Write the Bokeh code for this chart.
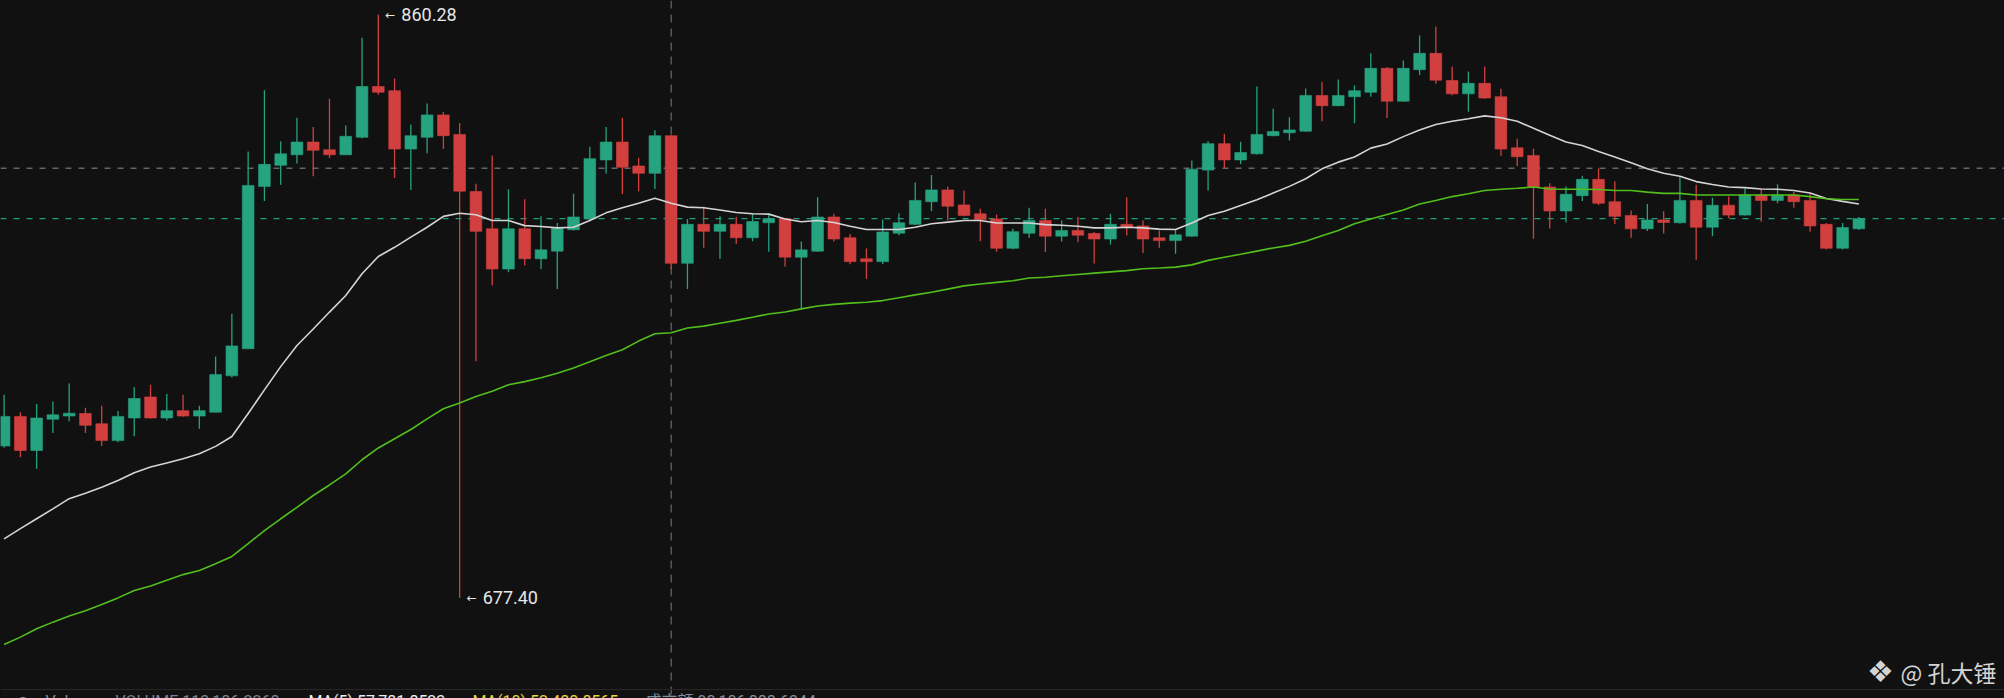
from bokeh.plotting import figure
from bokeh.models import Range1d, ColumnDataSource, Span, GlobalInlineStyleSheet
from bokeh.core.properties import value
from bokeh.embed import file_html
from bokeh.resources import INLINE

# ---------------- data ----------------
open_ = [725.0, 734.3, 723.6, 733.4, 734.4, 735.2, 732.0, 726.7, 733.8, 740.4,
         733.8, 736.1, 734.4, 735.6, 747.0, 755.5, 806.4, 813.0, 816.3, 820.3,
         817.9, 816.3, 821.8, 837.7, 836.4, 818.1, 821.8, 828.8, 822.7, 804.8,
         793.1, 780.5, 793.1, 783.7, 786.1, 792.8, 796.2, 814.7, 820.3, 812.8,
         810.5, 822.3, 782.3, 794.5, 792.3, 794.5, 790.3, 795.0, 796.3, 784.2,
         786.1, 796.8, 790.3, 783.7, 782.8, 791.7, 794.5, 801.6, 805.3, 800.6,
         797.8, 796.2, 787.0, 791.7, 795.7, 790.8, 792.6, 791.6, 789.9, 794.5,
         794.0, 790.3, 789.4, 790.8, 811.5, 819.8, 814.7, 816.6, 822.3, 823.2,
         823.7, 834.9, 831.7, 834.5, 835.9, 843.4, 833.1, 843.0, 848.1, 839.6,
         835.4, 838.7, 834.5, 818.5, 816.1, 806.2, 798.7, 803.5, 808.6, 801.6,
         797.3, 793.1, 795.9, 795.0, 802.0, 793.6, 800.5, 797.4, 803.7, 802.0,
         803.7, 802.0, 794.5, 787.0, 793.1]
high = [741.1, 735.6, 738.2, 739.0, 744.6, 737.0, 737.6, 736.0, 743.4, 744.2,
        741.3, 741.1, 737.6, 753.1, 766.5, 817.3, 836.5, 820.5, 827.9, 825.0,
        833.9, 825.5, 853.0, 860.28, 840.2, 825.8, 832.4, 829.7, 826.3, 807.2,
        816.1, 805.5, 802.4, 797.0, 794.9, 804.1, 818.8, 825.0, 827.9, 815.4,
        824.0, 822.4, 796.2, 800.1, 797.0, 796.8, 797.8, 797.8, 796.5, 789.1,
        803.0, 797.8, 791.5, 786.9, 796.0, 798.0, 807.6, 810.0, 806.4, 805.1,
        799.4, 797.6, 793.1, 799.7, 799.4, 795.7, 796.8, 792.1, 797.8, 803.0,
        795.7, 792.6, 792.8, 814.5, 820.6, 822.9, 820.4, 837.7, 830.7, 828.1,
        837.1, 839.2, 839.9, 838.0, 848.1, 843.8, 845.9, 853.7, 856.5, 844.0,
        842.4, 844.0, 837.0, 821.3, 818.2, 807.4, 806.4, 809.7, 812.0, 808.0,
        798.8, 800.9, 798.6, 809.3, 806.9, 802.8, 803.2, 805.8, 805.5, 807.1,
        804.6, 804.3, 794.9, 794.9, 796.8]
low = [724.5, 721.5, 717.9, 729.1, 732.8, 729.1, 725.0, 726.2, 728.1, 733.6,
       733.0, 734.2, 730.4, 735.6, 746.5, 755.5, 801.8, 806.9, 813.6, 809.6,
       815.3, 816.3, 821.5, 835.1, 809.0, 805.3, 816.8, 818.1, 677.40, 751.6,
       775.3, 779.5, 781.6, 780.5, 774.2, 792.6, 795.7, 810.4, 804.0, 804.9,
       805.6, 780.5, 774.2, 787.2, 783.6, 788.3, 789.2, 785.9, 781.3, 768.2,
       785.8, 789.1, 782.0, 777.4, 782.1, 791.1, 794.3, 798.6, 795.7, 797.0,
       789.2, 785.9, 786.7, 790.2, 785.8, 789.1, 788.9, 782.2, 788.2, 791.0,
       785.5, 787.2, 785.3, 790.6, 805.1, 812.1, 813.4, 816.4, 822.1, 820.8,
       823.5, 826.8, 831.5, 826.2, 834.5, 827.8, 832.9, 841.3, 838.6, 835.0,
       829.8, 833.9, 816.0, 812.7, 790.0, 793.2, 795.1, 801.8, 800.6, 794.6,
       790.3, 792.4, 791.6, 794.8, 783.4, 790.8, 796.4, 797.3, 795.3, 801.1,
       799.7, 792.2, 786.6, 786.6, 792.7]
close = [734.3, 723.6, 733.8, 734.8, 735.3, 731.5, 726.7, 734.3, 739.9, 733.8,
         736.1, 734.4, 736.1, 747.4, 756.4, 806.7, 813.3, 816.6, 820.3, 817.7,
         816.3, 822.1, 837.7, 835.9, 818.1, 822.3, 828.8, 822.3, 804.9, 792.3,
         780.5, 793.1, 783.7, 786.5, 793.3, 796.8, 815.1, 820.3, 812.4, 810.5,
         822.3, 782.3, 794.5, 792.3, 794.5, 790.3, 795.4, 796.3, 784.2, 786.5,
         796.8, 789.9, 782.8, 782.8, 792.1, 795.0, 802.0, 805.3, 800.2, 797.3,
         796.0, 787.0, 792.2, 795.7, 790.8, 792.6, 791.1, 789.9, 794.5, 793.6,
         789.9, 789.4, 791.2, 811.8, 819.8, 814.7, 817.0, 822.7, 823.6, 824.1,
         834.9, 831.7, 834.9, 836.4, 843.4, 833.1, 843.4, 848.1, 839.7, 835.4,
         838.7, 834.1, 818.1, 815.7, 806.2, 798.7, 803.9, 808.6, 801.1, 797.0,
         793.1, 795.9, 795.1, 802.0, 793.6, 800.5, 797.4, 803.7, 802.0, 803.7,
         801.6, 794.0, 787.0, 793.5, 796.3]
ma_white = [695.9, 699.1, 702.2, 705.3, 708.5, 710.2, 712.1, 714.2, 716.6, 718.4,
            719.7, 721.0, 722.6, 724.9, 728.0, 735.2, 742.6, 749.9, 756.5, 761.7,
            767.0, 772.2, 779.0, 784.4, 787.3, 790.5, 793.6, 797.0, 798.0, 797.5,
            795.7, 795.7, 794.1, 793.8, 793.4, 793.6, 795.7, 798.1, 799.7, 801.1,
            802.7, 801.1, 799.9, 799.7, 799.0, 798.2, 797.8, 797.7, 796.2, 795.3,
            795.7, 795.1, 793.9, 792.9, 792.9, 792.9, 793.6, 794.7, 795.2, 795.7,
            795.7, 794.9, 794.9, 794.9, 794.4, 794.2, 793.9, 793.4, 793.4, 793.6,
            793.4, 793.0, 792.9, 794.9, 797.3, 798.6, 800.4, 802.2, 804.3, 806.4,
            808.8, 811.9, 814.0, 815.6, 818.4, 819.7, 822.0, 824.1, 825.8, 826.8,
            827.6, 828.5, 827.9, 826.8, 824.6, 822.4, 820.3, 819.2, 817.3, 815.6,
            813.8, 811.9, 810.5, 809.6, 807.9, 807.0, 806.2, 806.0, 805.6, 805.5,
            805.1, 804.3, 802.6, 801.7, 800.9]
ma_green = [662.8, 665.1, 667.7, 669.8, 671.7, 673.4, 675.3, 677.4, 679.7, 681.1,
            682.9, 684.7, 686.0, 688.1, 690.4, 694.4, 698.5, 702.2, 705.8, 709.5,
            712.8, 716.3, 720.7, 724.4, 727.3, 730.2, 733.5, 736.7, 738.5, 740.5,
            742.2, 744.2, 745.2, 746.4, 747.8, 749.5, 751.4, 753.4, 755.2, 757.9,
            760.2, 760.5, 762.0, 762.6, 763.5, 764.4, 765.4, 766.4, 767.0, 768.0,
            768.9, 769.4, 769.8, 770.1, 770.6, 771.5, 772.4, 773.2, 774.2, 775.2,
            775.8, 776.3, 776.8, 777.7, 777.9, 778.4, 778.8, 779.2, 779.6, 780.0,
            780.6, 780.8, 781.1, 781.8, 783.2, 784.2, 785.1, 786.1, 787.1, 787.9,
            789.2, 790.9, 792.6, 794.7, 796.2, 797.6, 799.0, 800.9, 802.0, 803.2,
            804.1, 805.1, 805.5, 805.8, 806.2, 805.6, 805.5, 805.5, 805.4, 805.1,
            805.1, 804.6, 804.2, 804.2, 803.7, 803.7, 803.7, 803.7, 803.7, 803.7,
            803.7, 803.2, 802.5, 802.3, 802.3]
ref_level = 812.1          # grey dashed level
crosshair_index = 41       # vertical dashed crosshair
vol_labels = ["Volume", "VOLUME 113,186.2268", "MA(5) 57,781.8523",
              "MA(10) 52,488.8565", "成交额 90,106,888.6344"]
watermark = "@ 孔大锤"

# ---------------- figure ----------------
W, H = 2004, 698
X0, X1 = -0.221, 122.95
Y0, Y1 = 645.86, 864.67
BG = "#111111"
UP, DOWN = "#26a37f", "#d1403f"

def px2x(px):
    return X0 + px * (X1 - X0) / W

def py2y(py):
    return Y1 - py * (Y1 - Y0) / H

p = figure(width=W, height=H, output_backend="svg", toolbar_location=None,
           x_range=Range1d(X0, X1), y_range=Range1d(Y0, Y1),
           x_axis_location=None, y_axis_location=None,
           background_fill_color=BG, border_fill_color=BG,
           outline_line_color=None, min_border=0)
p.min_border_left = p.min_border_right = p.min_border_top = p.min_border_bottom = 0
p.grid.grid_line_color = None
p.stylesheets = [GlobalInlineStyleSheet(css="html,body{background:#111111;overflow:hidden;}")]

n = len(close)
idx = list(range(n))
colors = [UP if c >= o else DOWN for o, c in zip(open_, close)]
src = ColumnDataSource(dict(
    x=idx, high=high, low=low,
    top=[max(o, c) for o, c in zip(open_, close)],
    bottom=[min(o, c) for o, c in zip(open_, close)],
    color=colors))

# reference levels (behind the candles)
p.add_layout(Span(location=ref_level, dimension="width", line_color="#62656e",
                  line_dash="6 7", line_width=1.4, level="underlay"))
p.add_layout(Span(location=close[-1], dimension="width", line_color="#1f9e7c",
                  line_dash="6 7", line_width=1.4, level="underlay"))
p.add_layout(Span(location=crosshair_index, dimension="height", line_color="#7a7a7a",
                  line_dash="8 6", line_width=1, level="underlay"))
# volume pane separator
p.add_layout(Span(location=py2y(689), dimension="width", line_color="#262626",
                  line_width=1, level="underlay"))

p.segment(x0="x", y0="high", x1="x", y1="low", line_color="color",
          line_width=1.3, source=src)
p.vbar(x="x", width=0.72, top="top", bottom="bottom", fill_color="color",
       line_color="color", line_width=0.6, source=src)

p.line(idx, ma_white, line_color="#d4d4d4", line_width=1.6)
p.line(idx, ma_green, line_color="#52bf1c", line_width=1.6)

# high / low markers
i_hi = high.index(max(high))
i_lo = low.index(min(low))
for i, v in ((i_hi, high[i_hi]), (i_lo, low[i_lo])):
    p.text(x=[i], y=[v], text=["←"], x_offset=7, text_baseline="middle",
           text_align="left", text_color="#e6e6e6", text_font_size="12px",
           text_font=value("DejaVu Sans"))
    p.text(x=[i], y=[v], text=[f"{v:.2f}"], x_offset=23, text_baseline="middle",
           text_align="left", text_color="#e6e6e6", text_font_size="18px",
           text_font=value("Roboto"))

# volume pane header (cut by the window bottom, as in the reference)
hdr_x = [45, 115, 308, 472, 645]
hdr_c = ["#848e9c", "#7b8291", "#eaecef", "#e8d43c", "#848e9c"]
p.text(x=[px2x(15)], y=[py2y(691)], text=["○"], text_baseline="top",
       text_color="#848e9c", text_font_size="17px", text_font=value("DejaVu Sans"))
p.text(x=[px2x(v) for v in hdr_x], y=[py2y(691)] * len(hdr_x), text=vol_labels,
       text_color=hdr_c, text_baseline="top", text_align="left",
       text_font_size="16px", text_font=value("Roboto, Noto Sans CJK SC"))

# watermark
p.text(x=[px2x(1880)], y=[py2y(671)], text=["❖"], text_align="center",
       text_baseline="middle", text_color="#d4d4d4", text_font_size="30px",
       text_font=value("DejaVu Sans"))
p.text(x=[px2x(1900)], y=[py2y(671)], text=[watermark], text_align="left",
       text_baseline="middle", text_color="#d4d4d4", text_font_size="23px",
       text_font=value("Noto Sans CJK SC"))

open("out.html", "w").write(file_html(p, INLINE))
